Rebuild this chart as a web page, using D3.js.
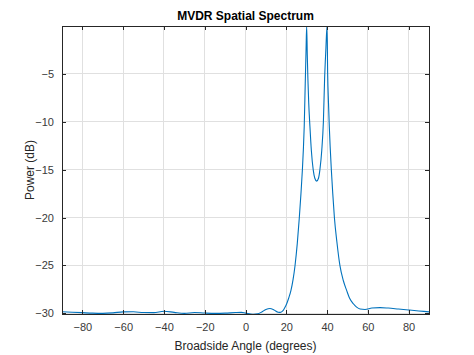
<!DOCTYPE html>
<html><head><meta charset="utf-8">
<script src="https://cdn.jsdelivr.net/npm/d3@7"></script>
<style>
html,body{margin:0;padding:0;background:#fff;}
svg{display:block;font-family:"Liberation Sans",Arial,sans-serif;}
</style></head>
<body><svg id="c" width="474" height="355"></svg>
<script>
const angles = [-90,-85,-80,-75,-70,-65,-60,-55,-50,-45,-40,-35,-30,-25,-20,-15,-10,-5,-2,0,2,4,6,8,10,12,14,16,17,17.7,18.5,19.3,20.2,21.2,22.3,23.3,24.3,25.4,26.4,27.2,27.9,28.4,28.8,29.3,29.7,30,30.3,30.6,31.0,31.6,32.3,33.2,34.0,34.9,35.8,36.5,37.4,38.2,38.8,39.4,40,40.3,40.7,41.1,41.5,42.1,42.8,43.6,44.8,46.3,48,49.6,51,52.9,54.5,56.2,58.6,62,66,70,75,80,85,90];
const powerDb = [-29.83,-29.88,-29.93,-29.98,-30.0,-29.95,-29.85,-29.84,-29.92,-29.93,-29.78,-29.9,-30.0,-29.92,-29.97,-30.0,-29.98,-29.92,-29.9,-29.98,-30.05,-30.1,-30.05,-29.85,-29.6,-29.5,-29.65,-29.88,-29.9,-29.85,-29.7,-29.4,-29.0,-28.4,-27.6,-26.5,-25.0,-22.7,-20.0,-17.5,-15.0,-12.8,-10.5,-6.0,-2.5,0,-3.0,-5.5,-8.0,-10.5,-13.0,-15.0,-15.9,-16.2,-15.9,-15.0,-13.0,-10.0,-5.5,-2.5,0,-5.0,-8.0,-10.5,-12.5,-15.0,-17.5,-20.0,-22.5,-25.0,-26.6,-27.6,-28.4,-29.0,-29.35,-29.55,-29.6,-29.45,-29.4,-29.45,-29.55,-29.65,-29.75,-29.85];
const xTicks = [-80,-60,-40,-20,0,20,40,60,80];
const yTicks = [-30,-25,-20,-15,-10,-5];
const title = "MVDR Spatial Spectrum";
const xLabel = "Broadside Angle (degrees)";
const yLabel = "Power (dB)";

const L=62, R=429, T=26, B=314;
const svg = d3.select("#c");
const x = d3.scaleLinear().domain([-90,90]).range([L,R]);
const y = d3.scaleLinear().domain([-30.07,0]).range([B,T]);
const axisCol = "#262626";
const textCol = "#3a3a3a";

// grid
const g = svg.append("g");
g.selectAll(".gx").data(xTicks).join("line")
  .attr("x1",d=>x(d)).attr("x2",d=>x(d)).attr("y1",T).attr("y2",B)
  .attr("stroke","#e0e0e0").attr("stroke-width",1).attr("shape-rendering","crispEdges");
g.selectAll(".gy").data(yTicks).join("line")
  .attr("y1",d=>y(d)).attr("y2",d=>y(d)).attr("x1",L).attr("x2",R)
  .attr("stroke","#e0e0e0").attr("stroke-width",1).attr("shape-rendering","crispEdges");

// line
svg.append("defs").append("clipPath").attr("id","clip")
  .append("rect").attr("x",L).attr("y",T).attr("width",R-L).attr("height",B-T);
const line = d3.line().x((d,i)=>x(angles[i])).y(d=>y(d)).curve(d3.curveMonotoneX);
svg.append("path").datum(powerDb).attr("d",line)
  .attr("fill","none").attr("stroke","#0072BD").attr("stroke-width",1.1)
  .attr("clip-path","url(#clip)");

// axes
const xb = d3.axisBottom(x).tickValues(xTicks).tickSize(-4).tickPadding(9).tickFormat(d3.format("d"));
const xt = d3.axisTop(x).tickValues(xTicks).tickSize(-4).tickFormat("");
const yl = d3.axisLeft(y).tickValues(yTicks).tickSize(-4).tickPadding(8).tickFormat(d3.format("d"));
const yr = d3.axisRight(y).tickValues(yTicks).tickSize(-4).tickFormat("");
function style(sel){
  sel.selectAll("path").attr("stroke",axisCol).attr("shape-rendering","crispEdges");
  sel.selectAll("line").attr("stroke",axisCol).attr("shape-rendering","crispEdges");
  sel.selectAll("text").attr("fill",textCol).style("font-size","11px")
    .style("font-family","'Liberation Sans',Arial,sans-serif");
}
svg.append("g").attr("transform",`translate(0,${B})`).call(xb).call(style);
svg.append("g").attr("transform",`translate(0,${T})`).call(xt).call(style);
svg.append("g").attr("transform",`translate(${L},0)`).call(yl).call(style);
svg.append("g").attr("transform",`translate(${R},0)`).call(yr).call(style);

// texts
svg.append("text").attr("x",(L+R)/2).attr("y",20).attr("text-anchor","middle")
  .style("font-size","12px").style("font-weight","bold").attr("fill","#000").text(title);
svg.append("text").attr("x",(L+R)/2).attr("y",350).attr("text-anchor","middle")
  .style("font-size","12px").attr("fill","#262626").text(xLabel);
svg.append("text").attr("transform",`translate(34,${(T+B)/2}) rotate(-90)`).attr("text-anchor","middle")
  .style("font-size","12px").attr("fill","#262626").text(yLabel);
</script></body></html>
